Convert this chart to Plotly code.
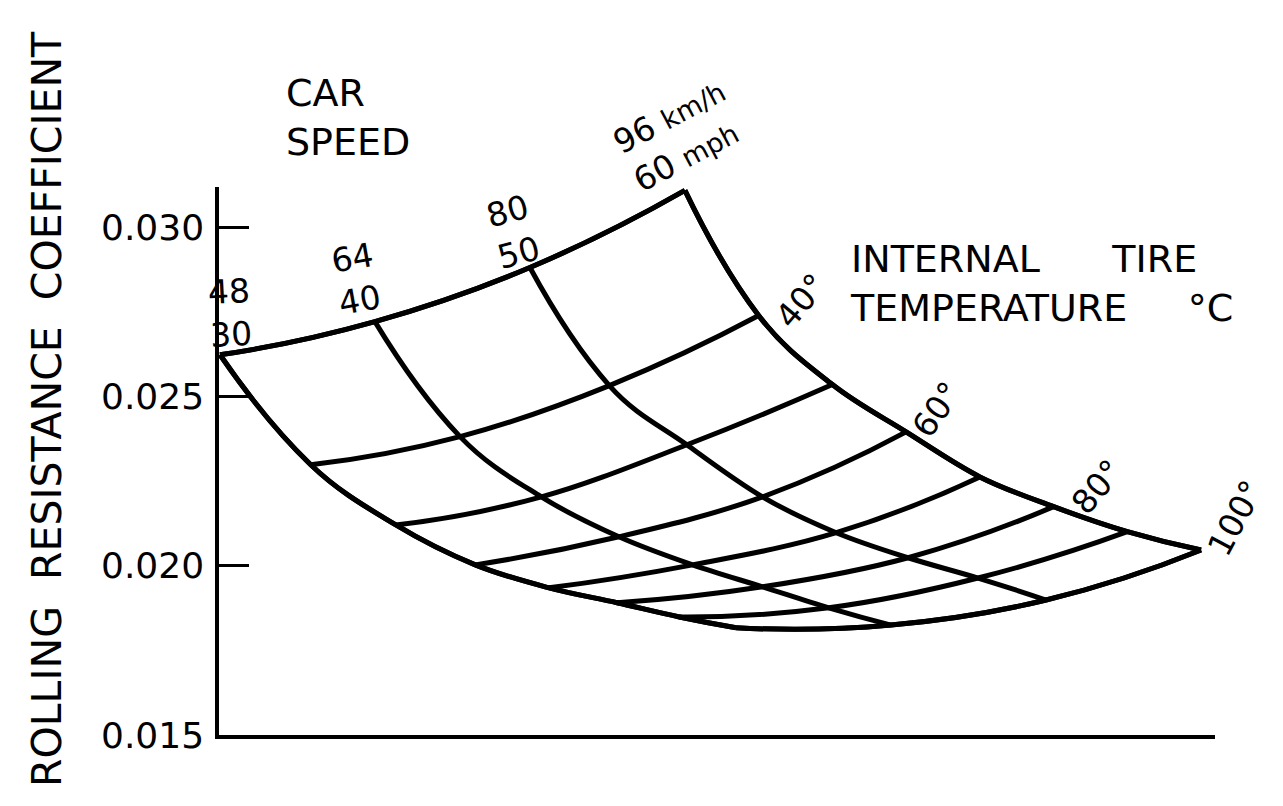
import plotly.graph_objects as go

# carpet axes: car speed (mph, with km/h equivalents) and internal tire temperature (deg C)
SPEED_MPH = [30, 40, 50, 60]
SPEED_KMH = [48, 64, 80, 96]
TEMP_C = [30, 40, 50, 60, 70, 80, 90, 100]
TEMP_LABELED = [40, 60, 80, 100]

# rolling resistance coefficient, one list per speed, by temperature
COEF_30MPH = [0.02624, 0.02299, 0.02121, 0.02003, 0.01935, 0.01891, 0.01849, 0.01817]
COEF_40MPH = [0.02722, 0.02382, 0.02204, 0.02086, 0.02003, 0.01938, 0.01876, 0.01825]
COEF_50MPH = [0.02882, 0.02533, 0.02358, 0.02204, 0.02098, 0.02024, 0.01964, 0.01899]
COEF_60MPH = [0.03110, 0.02740, 0.02536, 0.02396, 0.02263, 0.02175, 0.02101, 0.02047]

Y_TICKS = [0.015, 0.020, 0.025, 0.030]
Y_TICK_TEXT = ["0.015", "0.020", "0.025", "0.030"]

# horizontal layout of the carpet (x has no meaning): one unit across the speeds,
# TEMP_SHIFT across the temperatures, BOW pushes the middle temperatures of the slow lines right
TEMP_SHIFT = 1.11
BOW = 0.3
X_RANGE = [-0.002, 2.14]
Y_RANGE = [0.015, 0.0312]

FONT = "DejaVu Sans"

# page layout in browser pixels; the page body keeps its default 8px margin
PAGE_W, PAGE_H, PAGE_PAD = 1283, 806, 8
PLOT_L, PLOT_R, PLOT_T, PLOT_B = 219, 1215, 187, 735


def px_to_paper(px, py):
    return (px - PLOT_L) / (PLOT_R - PLOT_L), (PLOT_B - py) / (PLOT_B - PLOT_T)


def carpet_x(speed, temp):
    """x position of a grid node"""
    aval = (speed - SPEED_MPH[0]) / (SPEED_MPH[-1] - SPEED_MPH[0])
    bval = (temp - TEMP_C[0]) / (TEMP_C[-1] - TEMP_C[0])
    return aval + bval * TEMP_SHIFT + BOW * (1 - aval) * bval * (1 - bval)


coef_by_speed = [COEF_30MPH, COEF_40MPH, COEF_50MPH, COEF_60MPH]
# carpet wants [b][a]
coef_grid = [list(row) for row in zip(*coef_by_speed)]
x_grid = [[carpet_x(s, t) for s in SPEED_MPH] for t in TEMP_C]

grid_style = dict(
    showgrid=True,
    gridcolor="black",
    gridwidth=5,
    startline=True,
    endline=True,
    startlinecolor="black",
    endlinecolor="black",
    startlinewidth=5,
    endlinewidth=5,
    minorgridcount=0,
    showticklabels="none",
    smoothing=1,
    title=dict(text=""),
)

fig = go.Figure()
fig.add_trace(go.Carpet(
    a=SPEED_MPH,
    b=TEMP_C,
    x=x_grid,
    y=coef_grid,
    aaxis=grid_style,
    baxis=grid_style,
))

annotations = []

# speed labels at the top end of every speed line
speed_shift = [(10, 42), (-19, 43), (-17, 36), (-5, 55)]
speed_angle = [-3, -10, -15, -28]
for i, (mph, kmh) in enumerate(zip(SPEED_MPH, SPEED_KMH)):
    if i == len(SPEED_MPH) - 1:
        text = (f"{kmh} <span style='font-size:27px'>km/h</span><br>"
                f"{mph} <span style='font-size:27px'>mph</span>")
    else:
        text = f"{kmh}<br>{mph}"
    dx, dy = speed_shift[i]
    annotations.append(dict(
        x=carpet_x(mph, TEMP_C[0]), y=coef_by_speed[i][0],
        xref="x", yref="y", text=text, showarrow=False,
        xanchor="center", yanchor="middle", align="left",
        xshift=dx, yshift=dy, textangle=speed_angle[i],
        font=dict(family=FONT, size=33, color="black"),
    ))

# temperature labels along the 60 mph edge
temp_shift = [(43, 15), (31, 22), (44, 20), (35, 32)]
temp_angle = [-50, -55, -50, -62]
for k, t in enumerate(TEMP_LABELED):
    j = TEMP_C.index(t)
    dx, dy = temp_shift[k]
    annotations.append(dict(
        x=carpet_x(SPEED_MPH[-1], t), y=COEF_60MPH[j],
        xref="x", yref="y", text=f"{t}°", showarrow=False,
        xanchor="center", yanchor="middle",
        xshift=dx, yshift=dy, textangle=temp_angle[k],
        font=dict(family=FONT, size=33, color="black"),
    ))

# free text
for text, (px, py), size, angle, anchor in [
    ("CAR<br>SPEED", (284, 117), 38, 0, "left"),
    ("INTERNAL      TIRE<br>TEMPERATURE     °C", (848, 283), 38, 0, "left"),
    ("ROLLING  RESISTANCE  COEFFICIENT", (47, 409), 41, -90, "center"),
]:
    x, y = px_to_paper(px, py)
    annotations.append(dict(
        x=x, y=y, xref="paper", yref="paper", text=text, showarrow=False,
        xanchor=anchor, yanchor="middle", align="left", textangle=angle,
        font=dict(family=FONT, size=size, color="black"),
    ))

fig_w = PAGE_W - 2 * PAGE_PAD
fig_h = PAGE_H - 2 * PAGE_PAD
fig.update_layout(
    width=fig_w,
    height=fig_h,
    margin=dict(
        l=PLOT_L - PAGE_PAD,
        r=PAGE_PAD + fig_w - PLOT_R,
        t=PLOT_T - PAGE_PAD,
        b=PAGE_PAD + fig_h - PLOT_B,
    ),
    paper_bgcolor="white",
    plot_bgcolor="white",
    showlegend=False,
    font=dict(family=FONT, color="black"),
    xaxis=dict(
        range=X_RANGE,
        showline=True,
        linecolor="black",
        linewidth=3.5,
        showgrid=False,
        zeroline=False,
        showticklabels=False,
        ticks="",
    ),
    yaxis=dict(
        range=Y_RANGE,
        tickmode="array",
        tickvals=Y_TICKS,
        ticktext=Y_TICK_TEXT,
        ticks="inside",
        ticklen=30,
        tickwidth=3,
        tickcolor="black",
        showline=True,
        linecolor="black",
        linewidth=3.5,
        showgrid=False,
        zeroline=False,
        ticklabelstandoff=4,
        tickfont=dict(family=FONT, size=36, color="black"),
    ),
    annotations=annotations,
)

fig.write_html("out.html")
